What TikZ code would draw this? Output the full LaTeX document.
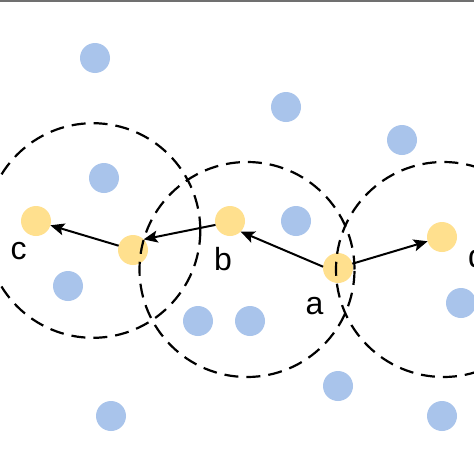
\documentclass[tikz,border=0pt]{standalone}
\usepackage{fontspec}
\setmainfont{Liberation Sans}
\usetikzlibrary{arrows.meta}
\definecolor{dotblue}{HTML}{A9C4EB}
\definecolor{dotyellow}{HTML}{FFE08E}
\definecolor{topgray}{HTML}{707070}
\begin{document}
\begin{tikzpicture}[x=1pt,y=-1pt,
  bluedot/.style={circle,fill=dotblue,minimum size=30pt,inner sep=0pt,outer sep=0pt},
  yeldot/.style={circle,fill=dotyellow,minimum size=30pt,inner sep=0pt,outer sep=0pt},
  rangecircle/.style={draw=black,line width=2.2pt,dash pattern=on 14pt off 8pt},
  link/.style={draw=black,line width=2pt,-{Stealth[length=14pt,width=12pt,inset=3pt]}},
  lbl/.style={font=\fontsize{32}{38}\selectfont,inner sep=0pt,anchor=base}]
\useasboundingbox (0,0) rectangle (474,474);
\fill[white] (0,0) rectangle (474,474);
\fill[topgray] (0,0) rectangle (474,2);
% blue dots
\node[bluedot] (p1) at (95,58) {};
\node[bluedot] (p2) at (286,107) {};
\node[bluedot] (p3) at (402,140) {};
\node[bluedot] (p4) at (104,178) {};
\node[bluedot] (p5) at (296,221) {};
\node[bluedot] (p6) at (68,286) {};
\node[bluedot] (p7) at (198,321) {};
\node[bluedot] (p8) at (250,321) {};
\node[bluedot] (p9) at (338,386) {};
\node[bluedot] (p10) at (111,416) {};
\node[bluedot] (p11) at (442,416) {};
\node[bluedot] (p12) at (461,303) {};
% yellow dots
\node[yeldot] (c) at (36,221) {};
\node[yeldot] (m) at (133,250) {};
\node[yeldot] (b) at (230,221) {};
\node[yeldot] (a) at (338,268) {};
\node[yeldot] (d) at (442,237) {};
% arrows
\draw[link] (m) -- (c);
\draw[link] (b.195) -- (m.north east);
\draw[link] (a.175) -- (b.south east);
\draw[link] (a) -- (d);
% ranges
\coordinate (r1) at (93,230.5);
\coordinate (r2) at (247,269.5);
\coordinate (r3) at (443.5,269.5);
\draw[rangecircle] (r1) circle[radius=107.3pt];
\draw[rangecircle] (r2) circle[radius=107.5pt];
\draw[rangecircle] (r3) circle[radius=107.5pt];
% labels
\node[lbl] (lc) at (18.5,259) {c};
\node[lbl] (lb) at (223,270) {b};
\node[lbl] (la) at (314.5,314) {a};
\node[lbl] (ld) at (477,267) {d};
\end{tikzpicture}
\end{document}
